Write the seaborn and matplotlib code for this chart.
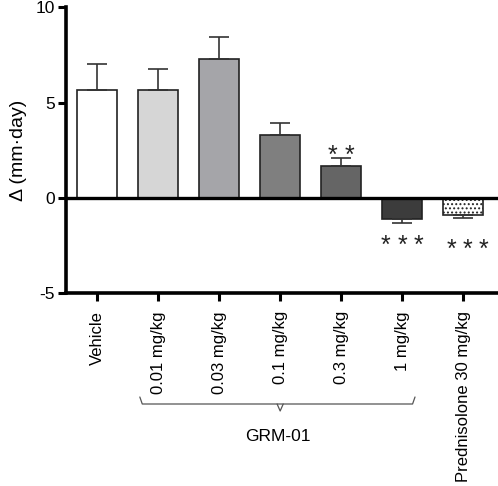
import numpy as np
import pandas as pd
import matplotlib
matplotlib.use("Agg")
import matplotlib.pyplot as plt
import matplotlib.transforms as mtransforms
import seaborn as sns

categories = ["Vehicle", "0.01 mg/kg", "0.03 mg/kg", "0.1 mg/kg", "0.3 mg/kg", "1 mg/kg", "Prednisolone 30 mg/kg"]
means = [5.67, 5.67, 7.26, 3.29, 1.66, -1.12, -0.89]
errors = [1.35, 1.08, 1.16, 0.63, 0.42, 0.19, 0.18]
colors = ["#ffffff", "#d6d6d6", "#a5a5a9", "#7f7f7f", "#656565", "#3c3c3c", "#ffffff"]
star_counts = [0, 0, 0, 0, 2, 3, 3]
star_y = [None, None, None, None, 2.5, -2.26, -2.45]

sns.set_theme(style="ticks")
plt.rcParams['font.family'] = ['Liberation Sans', 'DejaVu Sans']
plt.rcParams['text.color'] = 'black'
plt.rcParams['axes.labelcolor'] = 'black'
plt.rcParams['xtick.color'] = 'black'
plt.rcParams['ytick.color'] = 'black'
plt.rcParams['hatch.color'] = "#333333"
plt.rcParams['hatch.linewidth'] = 0.9

df = pd.DataFrame({"group": categories, "value": means})

fig = plt.figure(figsize=(4.98, 4.86), dpi=100)
ax = fig.add_axes([66/498, 1-293/486, 1-66/498, (293-7.3)/486])

sns.barplot(data=df, x="group", y="value", hue="group", palette=colors,
            order=categories, hue_order=categories, legend=False, width=0.66,
            edgecolor="#222222", linewidth=1.2, errorbar=None, ax=ax, saturation=1)

patches = [p for p in ax.patches]
patches[-1].set_hatch("....")

xs = np.arange(len(categories))
for x, m, e in zip(xs, means, errors):
    if m >= 0:
        yerr = [[0], [e]]
    else:
        yerr = [[e], [0]]
    ax.errorbar([x], [m], yerr=yerr, fmt="none", ecolor="#333333", elinewidth=1.2,
                capsize=7.5, capthick=1.2)

# significance asterisks (glyph sits above its text box centre)
star_fs = 18
glyph_shift = 0.33 * star_fs / 21
for x, n, y in zip(xs, star_counts, star_y):
    if n:
        step = 0.27
        offs = (np.arange(n) - (n - 1) / 2) * step
        xc = x + (0.07 if x == 6 else 0.0)
        for o in offs:
            ax.text(xc + o, y - glyph_shift, "*", ha="center", va="center",
                    fontsize=star_fs, color="#222222")

ax.axhline(0, color="black", linewidth=2.4, zorder=5)
ax.set_ylim(-5, 10)
ax.set_xlim(-0.51, 6.57)
ax.set_yticks([-5, 0, 5, 10])
ax.set_yticklabels(["-5", "0", "5", "10"], fontsize=12.5)
ax.set_xticks(xs)
ax.set_xticklabels(categories, rotation=90, fontsize=12, va="top", ha="center")
ax.tick_params(axis="both", width=2.2, length=6, color="black", pad=7)
ax.tick_params(axis="y", pad=2)
for sp in ["top", "right"]:
    ax.spines[sp].set_visible(False)
for sp in ["left", "bottom"]:
    ax.spines[sp].set_linewidth(2.6)
    ax.spines[sp].set_color("black")
ax.set_xlabel("")
ax.set_ylabel("Δ (mm·day)", fontsize=14, labelpad=6)

trans = mtransforms.blended_transform_factory(ax.transData, fig.transFigure)
def fy(p):
    return 1 - p/486
x0, x1, xc = 0.70, 5.21, 3.0
ybar = fy(404)
ax.plot([x0, x0 + 0.04, x1 - 0.04, x1], [fy(397), ybar, ybar, fy(397)],
        transform=trans, color="#555555", lw=0.9, clip_on=False)
ax.plot([xc - 0.05, xc, xc + 0.05], [ybar, fy(411), ybar], transform=trans,
        color="#555555", lw=0.9, clip_on=False)
ax.text(2.97, fy(436), "GRM-01", transform=trans, ha="center", va="center", fontsize=12.5)

fig.savefig("out.png", dpi=100)
